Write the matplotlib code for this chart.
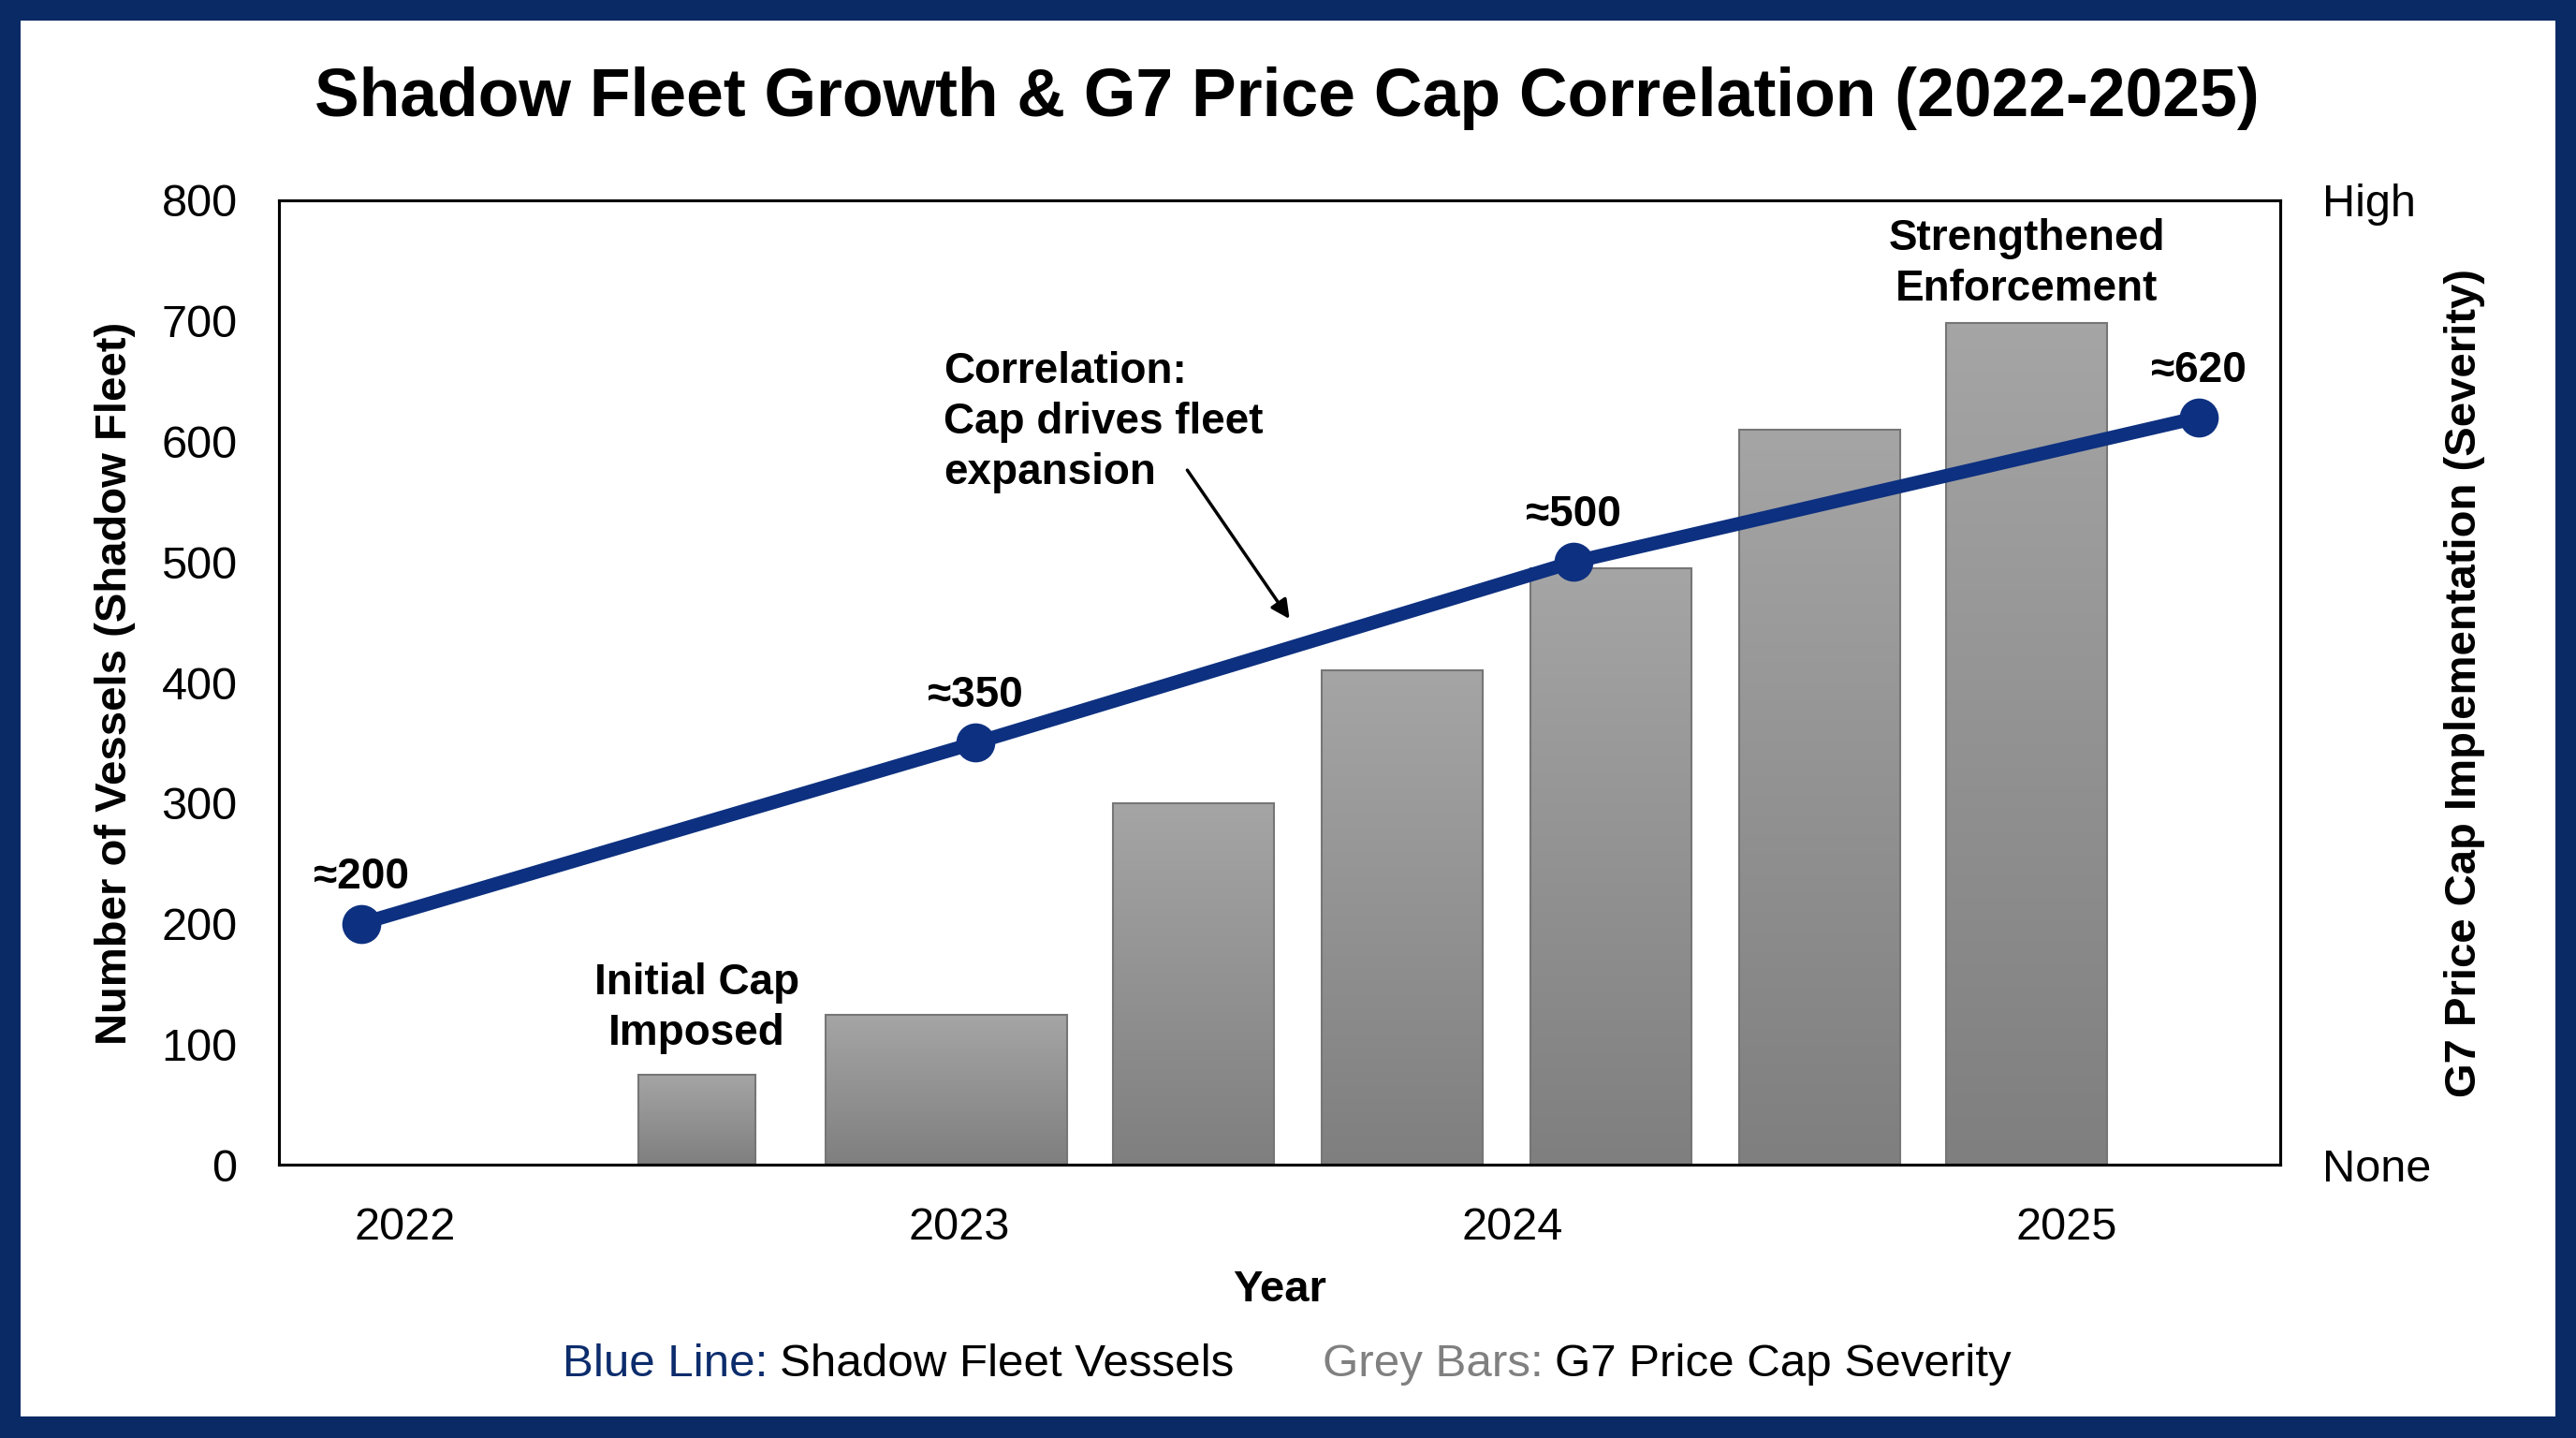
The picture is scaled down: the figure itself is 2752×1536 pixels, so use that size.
import matplotlib
matplotlib.use('Agg')
import matplotlib.pyplot as plt
import numpy as np
from matplotlib.patches import Rectangle
from matplotlib.colors import LinearSegmentedColormap
from matplotlib.offsetbox import TextArea, HPacker, AnnotationBbox

plt.rcParams['font.family'] = ['Liberation Sans', 'DejaVu Sans']

# ---------------- data ----------------
years = [2022, 2023, 2024, 2025]
line_x = [2021.92, 2023.03, 2024.11, 2025.24]
vessels = [200, 350, 500, 620]
vessel_labels = ['≈200', '≈350', '≈500', '≈620']

bar_x = [2022.527, 2022.978, 2023.424, 2023.801, 2024.178, 2024.555, 2024.929]
bar_w = [0.211, 0.436, 0.291, 0.291, 0.291, 0.291, 0.291]
severity = [75, 124, 300, 410, 495, 610, 698]

y_ticks = [0, 100, 200, 300, 400, 500, 600, 700, 800]
right_ticks = [0, 800]
right_labels = ['None', 'High']

title = 'Shadow Fleet Growth & G7 Price Cap Correlation (2022-2025)'
ylabel_left = 'Number of Vessels (Shadow Fleet)'
ylabel_right = 'G7 Price Cap Implementation (Severity)'
xlabel = 'Year'

# ---------------- style ----------------
NAVY = '#0d3080'
LEGEND_NAVY = '#0c2c6c'
BORDER = '#0a2a66'

fig = plt.figure(figsize=(27.52, 15.36), dpi=100, facecolor=BORDER)
fig.add_artist(Rectangle((22 / 2752, 23 / 1536), (2752 - 44) / 2752, (1536 - 45) / 1536,
                         transform=fig.transFigure, facecolor='white', edgecolor='none', zorder=0))

ax = fig.add_axes([0.1083, 0.190, 0.885 - 0.1083, 0.8607 - 0.190])
ax2 = ax.twinx()
ax.set_zorder(ax2.get_zorder() + 1)
ax.patch.set_visible(False)
ax2.patch.set_facecolor('white')

# bars with vertical gradient
cmap = LinearSegmentedColormap.from_list('g', ['#7f7f7f', '#a5a5a5'])
bars = ax2.bar(bar_x, severity, width=bar_w, color='none', edgecolor='#767676', linewidth=1.5, zorder=2)
grad = np.linspace(0, 1, 256).reshape(-1, 1)
for b in bars:
    x0, y0, w, h = b.get_x(), b.get_y(), b.get_width(), b.get_height()
    im = ax2.imshow(grad, extent=[x0, x0 + w, y0, y0 + h], aspect='auto', cmap=cmap,
                    origin='lower', zorder=1, interpolation='bilinear')
    im.set_clip_path(b)

xlim = (2021.772, 2025.386)
ax2.set_xlim(*xlim)
ax2.set_ylim(0, 800)
ax2.set_yticks(right_ticks)
ax2.set_yticklabels(right_labels)
ax2.tick_params(axis='y', length=0, labelsize=35, pad=33)

# line
ax.plot(line_x, vessels, color=NAVY, lw=10.5, marker='o', ms=29, zorder=3,
        solid_capstyle='round')
for x, y, t in zip(line_x, vessels, vessel_labels):
    ax.annotate(t, (x, y), xytext=(0, 36), textcoords='offset points', ha='center',
                va='center', fontsize=33, fontweight='bold')

ax.set_xlim(*xlim)
ax.set_ylim(0, 800)
ax.set_yticks(y_ticks)
ax.set_xticks(years)
ax.set_xticklabels([str(y) for y in years])
ax.tick_params(axis='both', length=0, labelsize=35, pad=32)

for a in (ax, ax2):
    for s in a.spines.values():
        s.set_linewidth(2.2)
        s.set_color('black')

# annotations
ax.text(bar_x[0], 130, 'Initial Cap\nImposed', ha='center', va='center', fontsize=33,
        fontweight='bold', linespacing=1.3)
ax.text(bar_x[6], 747, 'Strengthened\nEnforcement', ha='center', va='center', fontsize=33,
        fontweight='bold', linespacing=1.3)
ax.text(2022.973, 616, 'Correlation:\nCap drives fleet\nexpansion', ha='left', va='center',
        fontsize=33, fontweight='bold', linespacing=1.3)
ax.annotate('', xy=(2023.60, 451), xytext=(2023.41, 578),
            arrowprops=dict(arrowstyle='-|>', color='black', lw=2.5, mutation_scale=30))

# titles / labels
fig.text(0.4997, 0.9316, title, ha='center', va='center', fontsize=51.5, fontweight='bold')
fig.text(0.0447, 0.525, ylabel_left, ha='center', va='center', rotation=90, fontsize=34,
         fontweight='bold')
fig.text(0.9567, 0.525, ylabel_right, ha='center', va='center', rotation=90, fontsize=34,
         fontweight='bold')
fig.text(0.4968, 0.1029, xlabel, ha='center', va='center', fontsize=34, fontweight='bold')

# custom legend text
tp = dict(fontsize=35.5)
g1 = HPacker(children=[TextArea('Blue Line:', textprops=dict(color=LEGEND_NAVY, **tp)),
                       TextArea('Shadow Fleet Vessels', textprops=dict(color='black', **tp))],
             sep=9, pad=0, align='baseline')
g2 = HPacker(children=[TextArea('Grey Bars:', textprops=dict(color='#808080', **tp)),
                       TextArea('G7 Price Cap Severity', textprops=dict(color='black', **tp))],
             sep=9, pad=0, align='baseline')
pack = HPacker(children=[g1, g2], sep=68, pad=0, align='baseline')
ab = AnnotationBbox(pack, (0.4997, 0.0514), xycoords='figure fraction', frameon=False,
                    box_alignment=(0.5, 0.5))
fig.add_artist(ab)

fig.savefig('out.png', dpi=100, facecolor=fig.get_facecolor())
